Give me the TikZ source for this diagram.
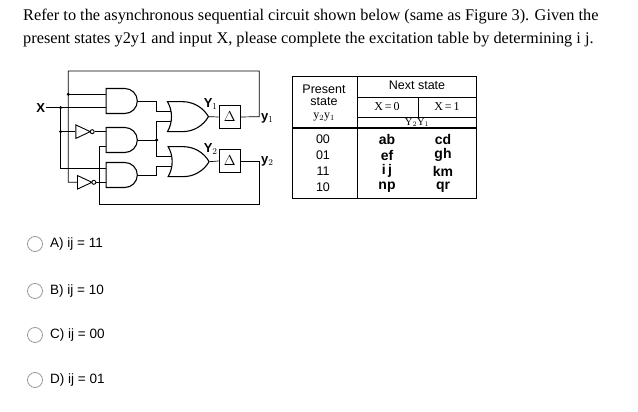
\documentclass[tikz,border=0pt]{standalone}
\usepackage{fontspec}
\setmainfont{Liberation Serif}
\newfontfamily\sansf{Liberation Sans}
\usetikzlibrary{shapes.gates.logic.US,calc}
\begin{document}
\begin{tikzpicture}[x=1pt,y=-1pt,
  w/.style={line width=0.7pt},
  andg/.style={and gate US,draw,line width=1.1pt,logic gate inputs=nn,minimum width=26pt,minimum height=25pt,anchor=center},
  org/.style={or gate US,draw,line width=1.1pt,logic gate inputs=nn,minimum width=30pt,minimum height=30pt},
  notg/.style={not gate US,draw,line width=0.9pt,minimum width=13pt,minimum height=10pt,inner sep=0pt},
  dly/.style={draw,line width=1.1pt,minimum width=21pt,minimum height=23pt,inner sep=0pt,font=\sansf\Large},
  lab/.style={font=\sansf\bfseries\fontsize{13}{15}\selectfont,inner sep=1pt},
  tb/.style={font=\sansf\fontsize{12.5}{14}\selectfont,inner sep=0pt},
  tr/.style={font=\fontsize{12}{14}\selectfont,inner sep=0pt},
  tv/.style={font=\sansf\bfseries\fontsize{14}{16}\selectfont,inner sep=0pt},
  opt/.style={font=\sansf\fontsize{13.5}{16}\selectfont,anchor=west,inner sep=0pt},
  rad/.style={draw=gray!80,line width=0.8pt,circle,minimum size=15pt,inner sep=0pt}]
\useasboundingbox (0,0) rectangle (638,412);
\node[anchor=west,inner sep=0pt,font=\fontsize{16.3}{19}\selectfont] (q1) at (23,17) {Refer to the asynchronous sequential circuit shown below (same as Figure 3). Given the};
\node[anchor=west,inner sep=0pt,font=\fontsize{16.3}{19}\selectfont] (q2) at (23,40) {present states y2y1 and input X, please complete the excitation table by determining i j.};
% circuit in zoom coords
\begin{scope}[shift={(20,65)},x=0.3333pt,y=-0.3333pt]
\node[andg] (a1) at (302,108) {};
\node[andg] (a2) at (302,225) {};
\node[andg] (a3) at (302,330) {};
\node[org] (o1) at (495,155) {};
\node[org] (o2) at (497,290) {};
\node[dly] (d1) at (629,156) {$\Delta$};
\node[dly] (d2) at (629,288) {$\Delta$};
\node[notg] (n1) at (182,200) {};
\node[notg] (n2) at (187,352) {};
\node[lab] (X) at (62,128) {X};
\node[lab] (y1) at (742,160) {y$_1$};
\node[lab] (y2) at (742,290) {y$_2$};
\node[lab] (Y1) at (572,118) {Y$_1$};
\node[lab] (Y2) at (572,252) {Y$_2$};
\coordinate (t1) at (718,155);
\coordinate (t2) at (718,288);
\coordinate (J) at (410,0);
\draw[w] (X.east) -- (X.east -| a1.west);
\draw[w] (d1.east) -- (t1) -- (718,18) -- (145,18) -- (145,352) -- (n2.input);
\draw[w] (145,88) -- (a1.west |- 0,88);
\draw[w] (122,128) -- (122,310) -- (a3.west |- 0,310);
\draw[w] (122,200) -- (n1.input);
\draw[w] (n1.output) -- (n1.output -| a2.west);
\draw[w] (n2.output) -- (n2.output -| a3.west);
\draw[w] (d2.east) -- (t2) -- (718,418) -- (237,418) -- (237,244) -- (a2.west |- 0,244);
\draw[w] (a1.output) -- (a1.output -| J) |- (o1.input 1);
\draw[w] (a2.output) -- (a2.output -| J) |- (o1.input 2);
\draw[w] (a2.output -| J) |- (o2.input 1);
\draw[w] (a3.output) -- (a3.output -| J) |- (o2.input 2);
\draw[w] (o1.output) -- (d1.west);
\draw[w] (o2.output) -- (d2.west);
\foreach \p in {(145,88),(122,128),(122,200),(410,225)} \fill \p circle (5);
\end{scope}
% table
\draw[line width=0.8pt] (292,76) rectangle (476,198);
\draw[line width=0.6pt] (357,76) -- (357,198);
\draw[line width=0.6pt] (357,97) -- (476,97) (418,97) -- (418,117) (357,117) -- (476,117);
\draw[line width=1.6pt] (292,128) -- (476,128);
\node[tb] (ps) at (324,89) {Present};
\node[tb] (st) at (324,102) {state};
\node[tr] (yy) at (324,117) {y$_2$y$_1$};
\node[tb] (ns) at (417,85) {Next state};
\node[tr] (x0) at (387,107) {X\,=\,0};
\node[tr] (x1) at (447,107) {X\,=\,1};
\node[font=\fontsize{10.5}{12}\selectfont,inner sep=0pt] (YY) at (417,122.5) {Y$_2$Y$_1$};
\foreach \r/\yv/\a/\b in {00/139/ab/cd,01/155/ef/gh,11/171/i\,j/km,10/187/np/qr}{
  \node[tb] at (323,\yv) {\r};
  \node[tv] at (387,\yv) {\a};
  \node[tv] at (443,\yv) {\b};
}
% options
\foreach \yv/\t in {244/{A) ij = 11},291/{B) ij = 10},335/{C) ij = 00},380/{D) ij = 01}}{
  \node[rad] at (35,\yv) {};
  \node[opt] at (50,\yv) {\t};
}
\end{tikzpicture}
\end{document}
